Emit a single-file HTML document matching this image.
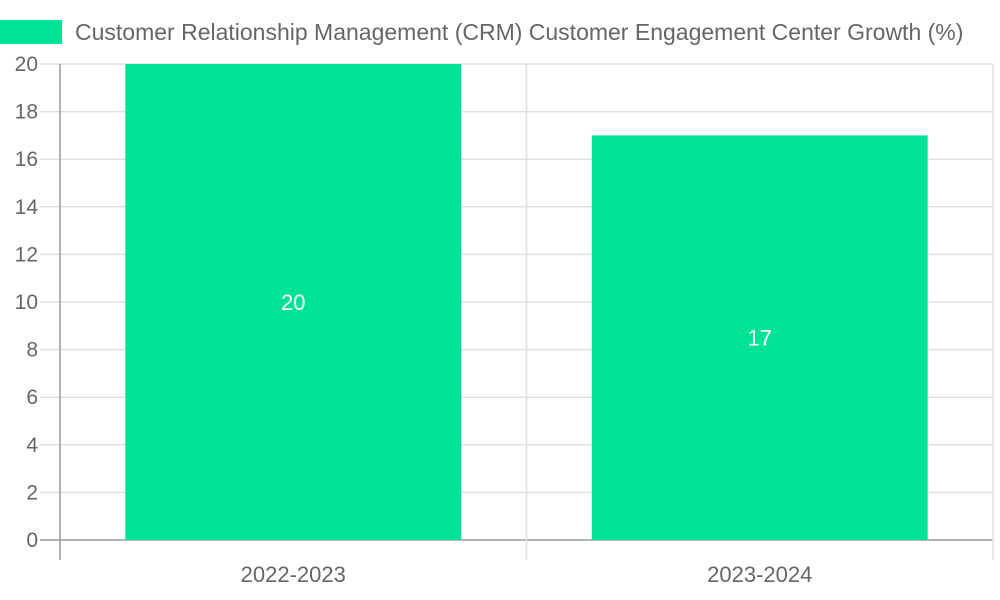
<!DOCTYPE html>
<html><head><meta charset="utf-8"><style>
html,body{margin:0;padding:0;background:#fff;width:1000px;height:600px;overflow:hidden}
svg text{font-family:"Liberation Sans",sans-serif}
</style></head><body>
<svg id="chart" width="1000" height="600" xmlns="http://www.w3.org/2000/svg">
<rect x="0" y="20" width="62" height="24" fill="#00E396"/>
<text x="75" y="40" font-size="23" fill="#666">Customer Relationship Management (CRM) Customer Engagement Center Growth (%)</text>
<g id="grid"></g><g id="bars"></g><g id="labels"></g>
</svg>
<script>
const categories = ["2022-2023", "2023-2024"];
const values = [20, 17];
const yTicks = [0, 2, 4, 6, 8, 10, 12, 14, 16, 18, 20];
const NS = "http://www.w3.org/2000/svg";
const L = 60, R = 993, T = 64, B = 540, yMax = 20;
const y = v => B - (v / yMax) * (B - T);
const band = (R - L) / categories.length;
const x = i => L + i * band;
function mk(tag, attrs, parent, txt) {
  const e = document.createElementNS(NS, tag);
  for (const k in attrs) e.setAttribute(k, attrs[k]);
  if (txt !== undefined) e.textContent = txt;
  document.getElementById(parent).appendChild(e);
  return e;
}
yTicks.forEach(t => {
  const g = mk("line", {x1: 40, x2: R, y1: y(t), y2: y(t), stroke: t === 0 ? "#999" : "#e0e0e0", "stroke-width": 1.5}, "grid");
  
  
  const l = mk("text", {x: 38, y: y(t) + 7, "text-anchor": "end", "font-size": 21, fill: "#666"}, "labels", String(t));
  
  
});
for (let i = 0; i <= categories.length; i++) {
  const v = mk("line", {x1: x(i), x2: x(i), y1: T, y2: 560, stroke: i === 0 ? "#999" : "#e0e0e0", "stroke-width": 1.5}, "grid");
  
  
}
categories.forEach((c, i) => {
  const bw = band * 0.72, bx = x(i) + (band - bw) / 2;
  const r = mk("rect", {x: bx, y: y(values[i]), width: bw, height: B - y(values[i]), fill: "#00E396"}, "bars");
  
  
  const vl = mk("text", {x: bx + bw / 2, y: (y(values[i]) + B) / 2 + 8, "text-anchor": "middle", "font-size": 22, fill: "#fff"}, "labels", String(values[i]));
  
  
  const xl = mk("text", {x: x(i) + band / 2, y: 582, "text-anchor": "middle", "font-size": 22, fill: "#666"}, "labels", c);
  
  
});
</script>
</body></html>
